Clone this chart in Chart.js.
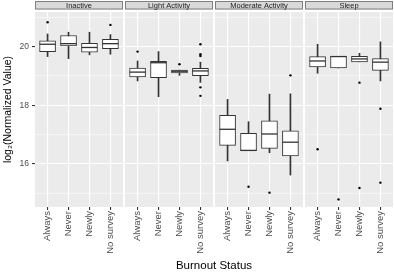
<!DOCTYPE html>
<html>
<head>
<meta charset="utf-8">
<script src="https://cdn.jsdelivr.net/npm/chart.js@4"></script>
<style>
  body { margin: 0; background: #fff; width: 394px; height: 273px; overflow: hidden; position: relative;
         font-family: "Liberation Sans", Arial, sans-serif; }
  .panel { position: absolute; top: 0; }
  #xtitle { position: absolute; left: 35px; width: 358px; top: 259px; text-align: center;
            font-size: 11.5px; line-height: 13px; color: #000; }
</style>
</head>
<body>
<div class="panel" style="left:0"><canvas id="p0" width="123" height="273"></canvas></div>
<div class="panel" style="left:125px"><canvas id="p1" width="88" height="273"></canvas></div>
<div class="panel" style="left:215px"><canvas id="p2" width="88" height="273"></canvas></div>
<div class="panel" style="left:305px"><canvas id="p3" width="88" height="273"></canvas></div>
<div id="xtitle">Burnout Status</div>
<script>
const facets = ['Inactive', 'Light Activity', 'Moderate Activity', 'Sleep'];
const statuses = ['Always', 'Never', 'Newly', 'No survey'];
const yTicks = [15, 16, 17, 18, 19, 20, 21];

// one row per facet, one value per status
const whiskerLow = [
  [19.66, 19.59, 19.72, 19.74],
  [18.83, 18.29, 19.02, 18.78],
  [16.10, 16.45, 16.38, 15.62],
  [19.09, 19.27, 19.48, 18.83]
];
const q1 = [
  [19.83, 20.02, 19.81, 19.93],
  [18.97, 18.94, 19.10, 19.01],
  [16.63, 16.45, 16.53, 16.27],
  [19.31, 19.27, 19.48, 19.19]
];
const median = [
  [20.08, 20.10, 19.97, 20.10],
  [19.13, 19.45, 19.16, 19.17],
  [17.18, 16.46, 17.02, 16.74],
  [19.51, 19.66, 19.58, 19.47]
];
const q3 = [
  [20.20, 20.38, 20.11, 20.25],
  [19.27, 19.50, 19.20, 19.26],
  [17.66, 17.04, 17.47, 17.13],
  [19.66, 19.67, 19.67, 19.59]
];
const whiskerHigh = [
  [20.43, 20.49, 20.49, 20.41],
  [19.51, 19.83, 19.20, 19.47],
  [18.20, 17.44, 18.38, 18.39],
  [20.08, 19.67, 19.77, 20.16]
];
const outliers = [
  [[20.83], [], [], [20.74]],
  [[19.83], [], [19.40], [20.08, 19.74, 19.68, 18.61, 18.32]],
  [[], [15.22], [15.02], [19.02]],
  [[16.50], [14.79], [18.77, 15.18], [17.88, 15.36]]
];

const font = '"Liberation Sans", Arial, sans-serif';

const panelBg = {
  id: 'panelBg',
  beforeDraw(chart, args, opts) {
    const {ctx, chartArea: a} = chart;
    ctx.save();
    ctx.fillStyle = '#EBEBEB';
    ctx.fillRect(a.left, a.top, a.right - a.left, a.bottom - a.top);
    // facet strip
    ctx.fillStyle = '#D9D9D9';
    ctx.fillRect(a.left, 1, a.right - a.left, 8.5);
    ctx.strokeStyle = '#7f7f7f';
    ctx.lineWidth = 1;
    ctx.strokeRect(a.left + 0.5, 1.5, a.right - a.left - 1, 7.5);
    ctx.fillStyle = '#1a1a1a';
    ctx.font = '7.5px ' + font;
    ctx.textAlign = 'center';
    ctx.textBaseline = 'middle';
    ctx.fillText(opts.label, (a.left + a.right) / 2, 5.6);
    ctx.restore();
  }
};

function noPad(s) {
  s.paddingLeft = 0; s.paddingRight = 0; s.paddingTop = 0; s.paddingBottom = 0;
}

function makePanel(f) {
  const first = f === 0;
  const idx = statuses.map((s, i) => i + 1);
  const pts = [];
  outliers[f].forEach((vals, i) => vals.forEach(v => pts.push({x: i + 1, y: v})));
  new Chart(document.getElementById('p' + f), {
    type: 'bar',
    data: {
      datasets: [
        {
          type: 'bar', order: 2, grouped: false,
          data: idx.map((x, i) => ({x, y: [whiskerLow[f][i], whiskerHigh[f][i]]})),
          backgroundColor: '#333', borderWidth: 0, barThickness: 1
        },
        {
          type: 'bar', order: 1, grouped: false,
          data: idx.map((x, i) => ({x, y: [q1[f][i], q3[f][i]]})),
          backgroundColor: '#fff', borderColor: '#333', borderWidth: 1,
          borderSkipped: false, barThickness: 16
        },
        {
          type: 'scatter', order: 0,
          data: idx.map((x, i) => ({x, y: median[f][i]})),
          pointStyle: 'line', radius: 8, borderColor: '#333', borderWidth: 1.3
        },
        {
          type: 'scatter', order: 0,
          data: pts,
          pointStyle: 'circle', radius: 1.2, backgroundColor: '#000', borderWidth: 0
        }
      ]
    },
    options: {
      responsive: false,
      animation: false,
      events: [],
      layout: {autoPadding: false, padding: {top: 12, left: 0, right: 0, bottom: 0}},
      plugins: {
        legend: {display: false},
        tooltip: {enabled: false},
        panelBg: {label: facets[f]}
      },
      scales: {
        x: {
          type: 'linear', min: 0.4, max: 4.6, offset: false,
          afterBuildTicks: s => { s.ticks = idx.map(v => ({value: v})); },
          afterFit: s => { s.height = 66; noPad(s); },
          border: {display: false},
          grid: {offset: false, color: '#fff', lineWidth: 1.1, tickColor: '#333', tickLength: 3},
          ticks: {
            callback: (v, i) => statuses[i],
            minRotation: 90, maxRotation: 90, autoSkip: false, padding: 1,
            color: '#4D4D4D', font: {family: font, size: 9.5}
          }
        },
        y: {
          min: 14.53, max: 21.18,
          afterBuildTicks: s => { s.ticks = yTicks.map(v => ({value: v})); },
          afterFit: s => { s.width = first ? 35 : 0; noPad(s); },
          border: {display: false},
          grid: {
            color: '#fff',
            lineWidth: c => (c.tick && c.tick.value % 2 === 0 ? 1.1 : 0.5),
            drawTicks: first,
            tickLength: 3,
            tickColor: c => (c.tick && c.tick.value % 2 === 0 ? '#333' : 'rgba(0,0,0,0)')
          },
          ticks: {
            display: first,
            callback: v => (v % 2 === 0 ? String(v) : ''),
            padding: 3, autoSkip: false,
            color: '#4D4D4D', font: {family: font, size: 8.5}
          },
          title: {
            display: first,
            text: 'log₂(Normalized Value)',
            color: '#000', font: {family: font, size: 10.5},
            padding: {top: 2, bottom: 0}
          }
        }
      }
    },
    plugins: [panelBg]
  });
}

facets.forEach((f, i) => makePanel(i));
</script>
</body>
</html>
